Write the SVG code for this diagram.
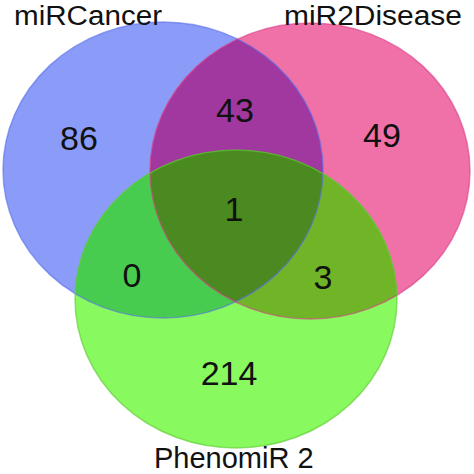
<svg xmlns="http://www.w3.org/2000/svg" width="474" height="474" viewBox="0 0 474 474">
<style>
text{font-family:"Liberation Sans",Arial,sans-serif;fill:#111;}
.lab{font-size:29px;}
.top{font-size:27px;}
.num{font-size:34px;text-anchor:middle;}
.edge{fill:none;stroke-width:1.5;}
</style>
<defs>
<ellipse id="eB" cx="163" cy="170" rx="160" ry="148"/>
<ellipse id="eP" cx="310" cy="171" rx="160" ry="148"/>
<ellipse id="eG" cx="236" cy="299" rx="161" ry="149"/>
<clipPath id="cB"><use href="#eB"/></clipPath>
<clipPath id="cP"><use href="#eP"/></clipPath>
<clipPath id="cG"><use href="#eG"/></clipPath>
</defs>
<rect width="474" height="474" fill="#fff"/>
<g id="miRCancer">
<use href="#eB" fill="#8a9cf8"/>
</g>
<g id="miR2Disease">
<use href="#eP" fill="#f070a8"/>
</g>
<g id="PhenomiR2">
<use href="#eG" fill="#88fa60"/>
</g>
<g id="overlaps">
<use href="#eB" fill="#a038a0" clip-path="url(#cP)"/>
<use href="#eB" fill="#48cc50" clip-path="url(#cG)"/>
<use href="#eP" fill="#70b428" clip-path="url(#cG)"/>
<g clip-path="url(#cP)"><use href="#eB" fill="#4a8a20" clip-path="url(#cG)"/></g>
</g>
<g id="edges">
<use href="#eB" class="edge" stroke="#5a6ee8" stroke-opacity="0.6"/>
<use href="#eP" class="edge" stroke="#d84088" stroke-opacity="0.6"/>
<use href="#eG" class="edge" stroke="#5cc830" stroke-opacity="0.6"/>
</g>
<g id="labels">
<text class="top" x="14" y="25" textLength="148" lengthAdjust="spacingAndGlyphs">miRCancer</text>
<text class="top" x="284" y="25" textLength="178" lengthAdjust="spacingAndGlyphs">miR2Disease</text>
<text class="lab" x="154" y="468">PhenomiR 2</text>
</g>
<g id="counts">
<text class="num" x="79" y="150">86</text>
<text class="num" x="235" y="122">43</text>
<text class="num" x="382" y="147">49</text>
<text class="num" x="234" y="221">1</text>
<text class="num" x="132" y="287">0</text>
<text class="num" x="323" y="289">3</text>
<text class="num" x="229" y="385">214</text>
</g>
</svg>
